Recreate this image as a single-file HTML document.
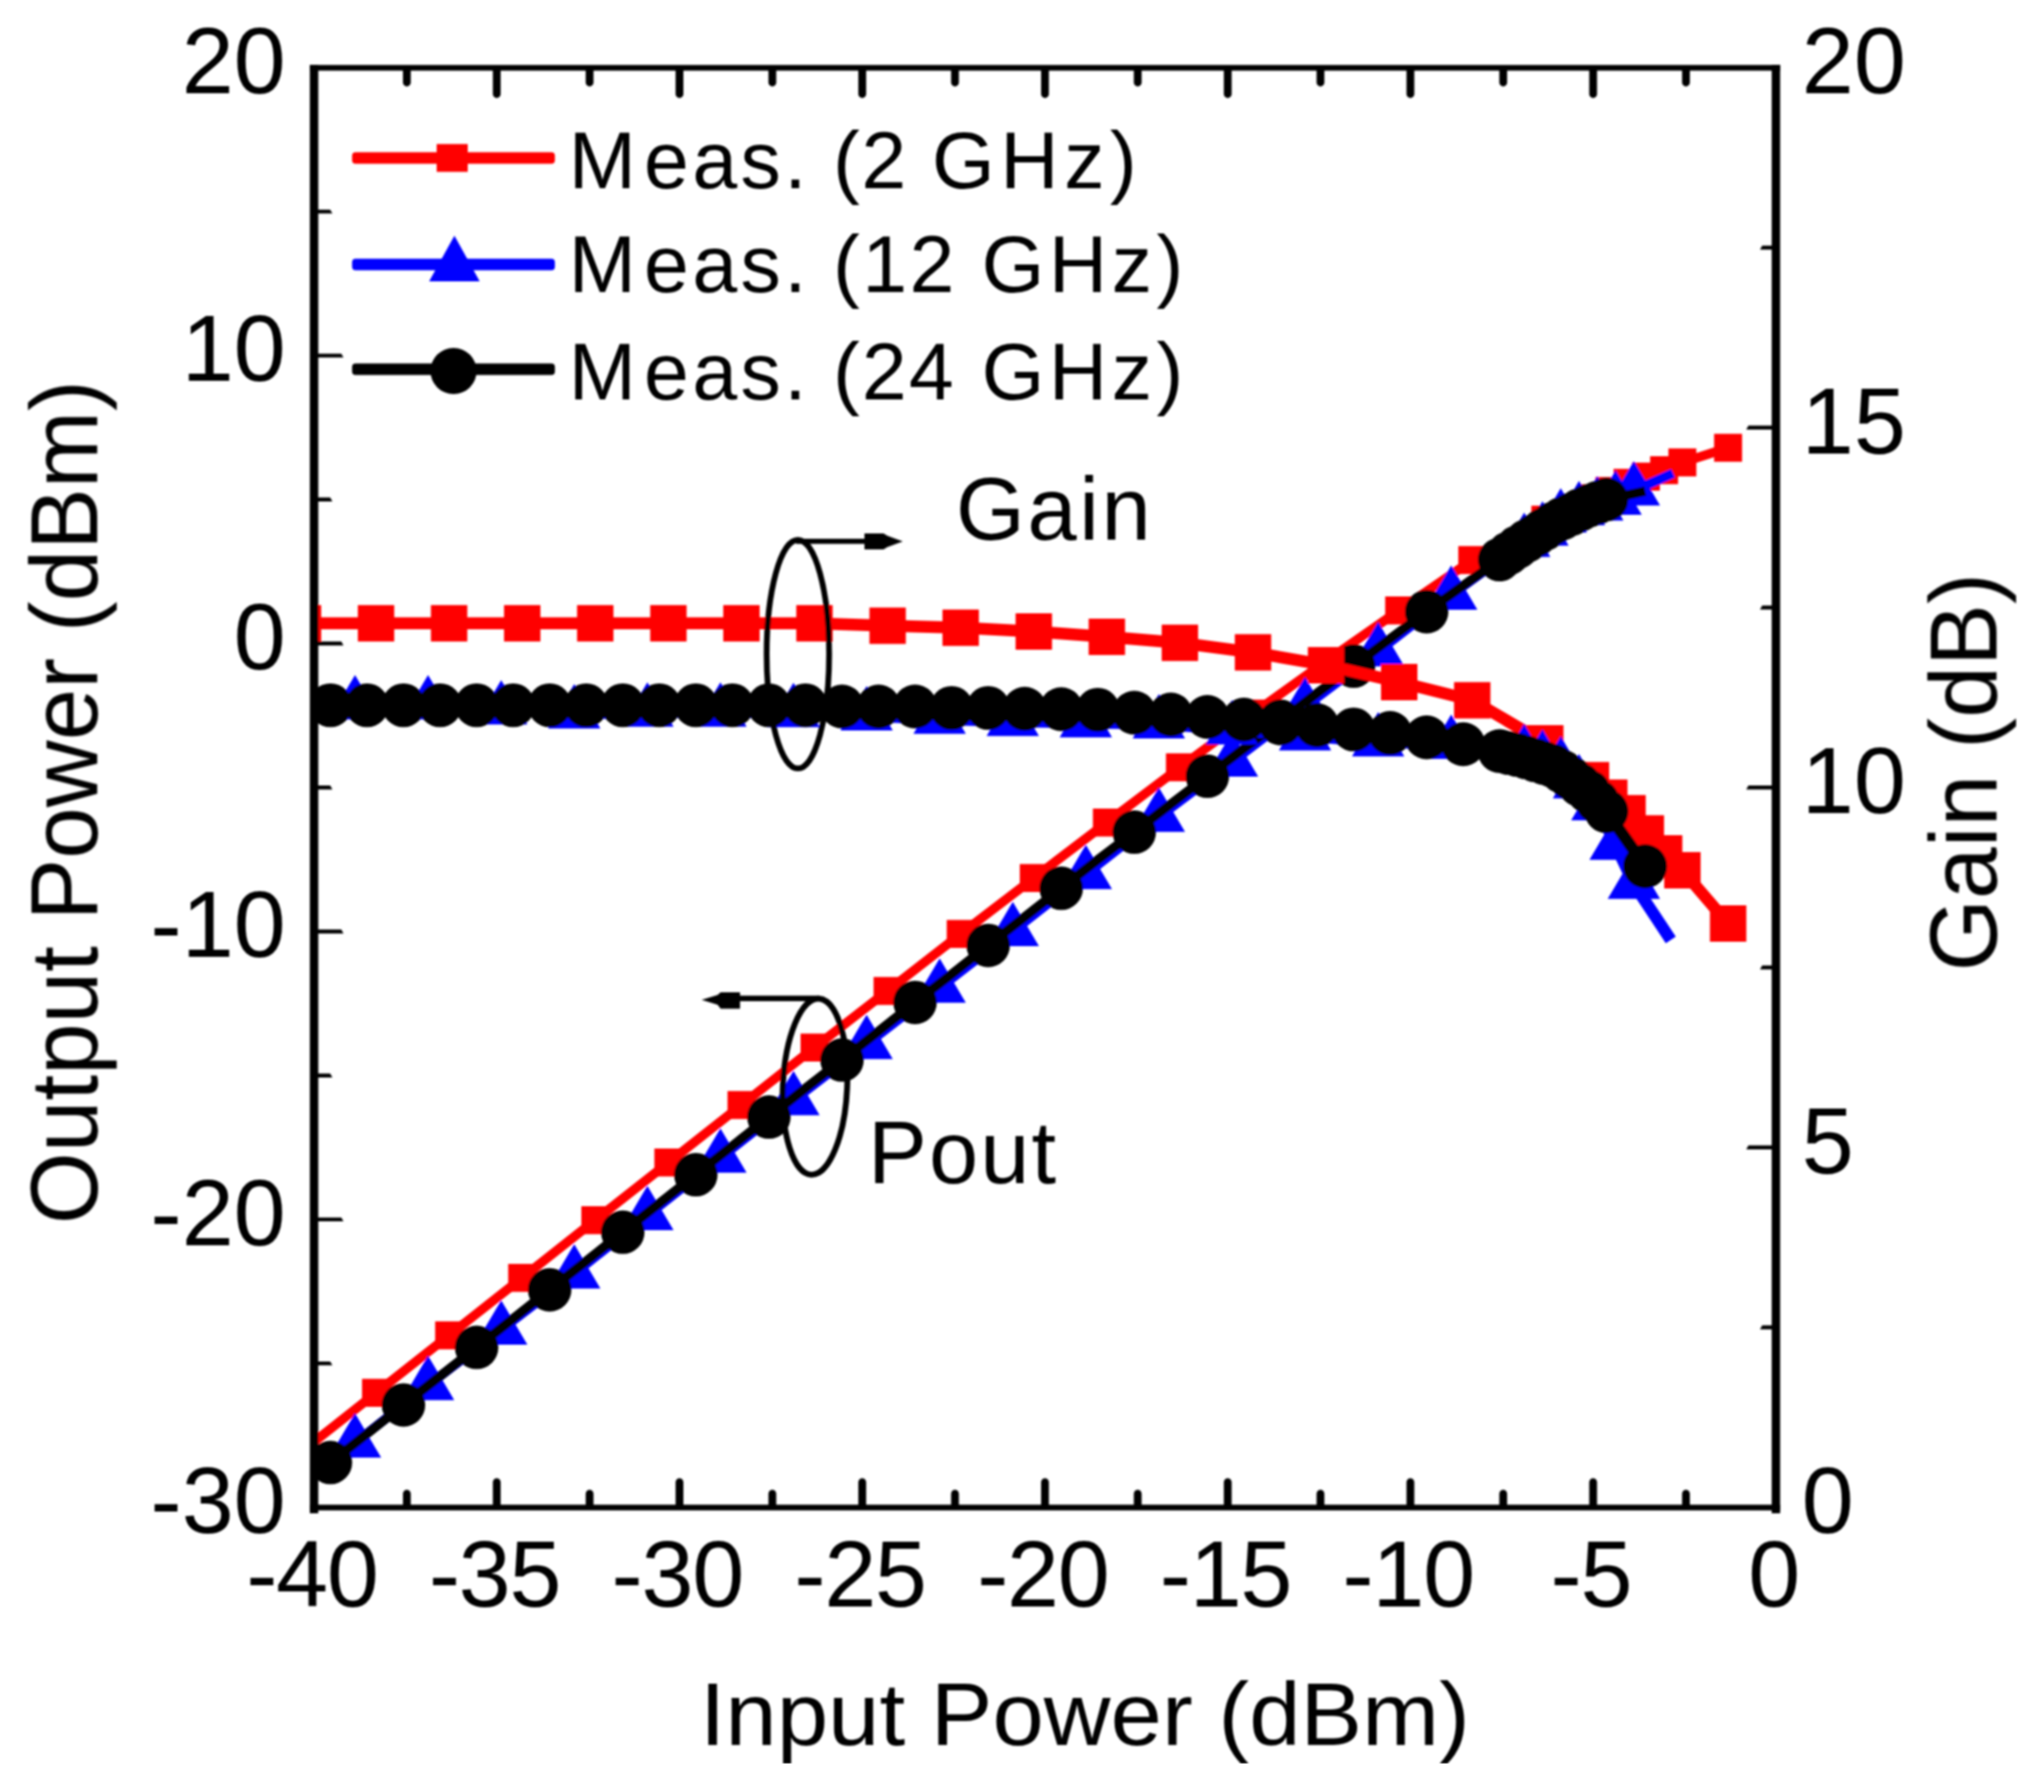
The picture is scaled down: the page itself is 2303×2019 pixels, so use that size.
<!DOCTYPE html>
<html lang="en"><head><meta charset="utf-8"><title>Output Power and Gain vs Input Power</title>
<style>html,body{margin:0;padding:0;background:#fff}svg{display:block}text{font-family:"Liberation Sans",Arial,Helvetica,sans-serif;fill:#000}</style></head><body>
<svg width="2303" height="2019" viewBox="0 0 2303 2019">
<rect width="2303" height="2019" fill="#fff"/>
<defs><filter id="soft" x="0" y="0" width="100%" height="100%" filterUnits="objectBoundingBox"><feGaussianBlur stdDeviation="0.9"/></filter><clipPath id="plot"><rect x="353.9" y="76.4" width="1647.1" height="1622.1"/></clipPath></defs>
<g id="chart" filter="url(#soft)">
<g clip-path="url(#plot)">
<g id="pout">
<polyline points="341.4,1634.2 423.7,1569.4 506,1504.5 588.4,1439.6 670.7,1374.7 753.1,1309.9 835.4,1245 917.7,1180.1 1000.1,1116.4 1082.4,1052.4 1164.8,989.3 1247.1,926.7 1329.4,864.6 1411.8,804 1494.1,744.9 1576.5,687.6 1658.8,631 1741.1,585.5 1792.6,561.6 1813.2,553.2 1833.8,544 1854.4,536.9 1875,529.6 1895.6,521 1947.1,504.5" fill="none" stroke="#ff0000" stroke-width="10.5" stroke-linejoin="round"/>
<path d="M325.6 1618.5h31.5v31.5h-31.5zM407.9 1553.6h31.5v31.5h-31.5zM490.3 1488.7h31.5v31.5h-31.5zM572.6 1423.9h31.5v31.5h-31.5zM655 1359h31.5v31.5h-31.5zM737.3 1294.1h31.5v31.5h-31.5zM819.7 1229.2h31.5v31.5h-31.5zM902 1164.4h31.5v31.5h-31.5zM984.3 1100.7h31.5v31.5h-31.5zM1066.7 1036.6h31.5v31.5h-31.5zM1149 973.5h31.5v31.5h-31.5zM1231.4 911h31.5v31.5h-31.5zM1313.7 848.8h31.5v31.5h-31.5zM1396 788.3h31.5v31.5h-31.5zM1478.4 729.1h31.5v31.5h-31.5zM1560.7 671.9h31.5v31.5h-31.5zM1643.1 615.2h31.5v31.5h-31.5zM1725.4 569.7h31.5v31.5h-31.5zM1776.8 545.8h31.5v31.5h-31.5zM1797.5 537.5h31.5v31.5h-31.5zM1818 528.2h31.5v31.5h-31.5zM1838.7 521.2h31.5v31.5h-31.5zM1859.2 513.9h31.5v31.5h-31.5zM1879.8 505.3h31.5v31.5h-31.5zM1931.3 488.7h31.5v31.5h-31.5z" fill="#ff0000"/>
<polyline points="317.7,1690.5 400,1625.6 482.3,1560.8 564.7,1498.2 647,1435.1 729.4,1369.5 811.7,1304.6 894,1239.9 976.4,1176.6 1058.7,1113.2 1141.1,1049.3 1223.4,985 1305.7,920.7 1388.1,858.5 1470.4,796.3 1552.8,734.1 1635.1,670.4 1717.3,610.8 1737.9,598.1 1758.5,583.4 1779.1,575 1799.7,569.7 1820.3,563.4 1840.9,552.9 1885,533.3" fill="none" stroke="#0000ff" stroke-width="10.5" stroke-linejoin="round"/>
<path d="M317.7 1657.2L347.2 1707.2L288.2 1707.2zM400 1592.3L429.5 1642.3L370.5 1642.3zM482.3 1527.4L511.8 1577.4L452.8 1577.4zM564.7 1464.9L594.2 1514.9L535.2 1514.9zM647 1401.8L676.5 1451.8L617.5 1451.8zM729.4 1336.1L758.9 1386.1L699.9 1386.1zM811.7 1271.3L841.2 1321.3L782.2 1321.3zM894 1206.6L923.5 1256.6L864.5 1256.6zM976.4 1143.2L1005.9 1193.2L946.9 1193.2zM1058.7 1079.8L1088.2 1129.8L1029.2 1129.8zM1141.1 1016L1170.6 1066L1111.6 1066zM1223.4 951.7L1252.9 1001.7L1193.9 1001.7zM1305.7 887.3L1335.2 937.3L1276.2 937.3zM1388.1 825.1L1417.6 875.1L1358.6 875.1zM1470.4 762.9L1499.9 812.9L1440.9 812.9zM1552.8 700.8L1582.3 750.8L1523.3 750.8zM1635.1 637L1664.6 687L1605.6 687zM1717.3 577.5L1746.8 627.5L1687.8 627.5zM1737.9 564.8L1767.4 614.8L1708.4 614.8zM1758.5 550.1L1788 600.1L1729 600.1zM1779.1 541.7L1808.6 591.7L1749.6 591.7zM1799.7 536.4L1829.2 586.4L1770.2 586.4zM1820.3 530.1L1849.8 580.1L1790.8 580.1zM1840.9 519.6L1870.4 569.6L1811.4 569.6z" fill="#0000ff"/>
<polyline points="372.3,1647.8 413.5,1615.4 454.6,1582.9 495.8,1550.5 537,1518.1 578.2,1485.6 619.3,1453.2 660.5,1420.8 701.7,1388.3 742.8,1355.9 784,1323.5 825.2,1291 866.3,1258.6 907.5,1226.1 948.7,1194.3 989.9,1161.8 1031,1129.4 1072.2,1097.6 1113.4,1065.2 1154.5,1033.1 1195.7,1000.8 1236.9,968.6 1278,937.6 1319.2,905.9 1360.4,874.6 1401.5,843.4 1442.7,812.6 1483.9,781 1525.1,750.5 1566.2,719.6 1607.4,689.2 1648.6,659.8 1689.7,630.5 1699.7,623.5 1709.8,616.5 1719.8,609.7 1729.8,603.1 1739.8,596.4 1749.8,589.8 1759.9,584.4 1769.9,579.6 1779.9,574.7 1790,569.8 1800,566.3 1810,562.8 1853.6,553.3" fill="none" stroke="#000000" stroke-width="10.5" stroke-linejoin="round"/>
<path d="M347.8 1647.8a24.5 24.5 0 1 0 49 0a24.5 24.5 0 1 0 -49 0zM430.1 1582.9a24.5 24.5 0 1 0 49 0a24.5 24.5 0 1 0 -49 0zM512.5 1518.1a24.5 24.5 0 1 0 49 0a24.5 24.5 0 1 0 -49 0zM594.8 1453.2a24.5 24.5 0 1 0 49 0a24.5 24.5 0 1 0 -49 0zM677.2 1388.3a24.5 24.5 0 1 0 49 0a24.5 24.5 0 1 0 -49 0zM759.5 1323.5a24.5 24.5 0 1 0 49 0a24.5 24.5 0 1 0 -49 0zM841.8 1258.6a24.5 24.5 0 1 0 49 0a24.5 24.5 0 1 0 -49 0zM924.2 1194.3a24.5 24.5 0 1 0 49 0a24.5 24.5 0 1 0 -49 0zM1006.5 1129.4a24.5 24.5 0 1 0 49 0a24.5 24.5 0 1 0 -49 0zM1088.9 1065.2a24.5 24.5 0 1 0 49 0a24.5 24.5 0 1 0 -49 0zM1171.2 1000.8a24.5 24.5 0 1 0 49 0a24.5 24.5 0 1 0 -49 0zM1253.5 937.6a24.5 24.5 0 1 0 49 0a24.5 24.5 0 1 0 -49 0zM1335.9 874.6a24.5 24.5 0 1 0 49 0a24.5 24.5 0 1 0 -49 0zM1418.2 812.6a24.5 24.5 0 1 0 49 0a24.5 24.5 0 1 0 -49 0zM1500.6 750.5a24.5 24.5 0 1 0 49 0a24.5 24.5 0 1 0 -49 0zM1582.9 689.2a24.5 24.5 0 1 0 49 0a24.5 24.5 0 1 0 -49 0zM1665.2 630.5a24.5 24.5 0 1 0 49 0a24.5 24.5 0 1 0 -49 0zM1675.2 623.5a24.5 24.5 0 1 0 49 0a24.5 24.5 0 1 0 -49 0zM1685.2 616.5a24.5 24.5 0 1 0 49 0a24.5 24.5 0 1 0 -49 0zM1695.3 609.7a24.5 24.5 0 1 0 49 0a24.5 24.5 0 1 0 -49 0zM1705.3 603.1a24.5 24.5 0 1 0 49 0a24.5 24.5 0 1 0 -49 0zM1715.3 596.4a24.5 24.5 0 1 0 49 0a24.5 24.5 0 1 0 -49 0zM1725.3 589.8a24.5 24.5 0 1 0 49 0a24.5 24.5 0 1 0 -49 0zM1735.4 584.4a24.5 24.5 0 1 0 49 0a24.5 24.5 0 1 0 -49 0zM1745.4 579.6a24.5 24.5 0 1 0 49 0a24.5 24.5 0 1 0 -49 0zM1755.4 574.7a24.5 24.5 0 1 0 49 0a24.5 24.5 0 1 0 -49 0zM1765.5 569.8a24.5 24.5 0 1 0 49 0a24.5 24.5 0 1 0 -49 0zM1775.5 566.3a24.5 24.5 0 1 0 49 0a24.5 24.5 0 1 0 -49 0zM1785.5 562.8a24.5 24.5 0 1 0 49 0a24.5 24.5 0 1 0 -49 0z" fill="#000000"/>
</g>
<g id="gain">
<polyline points="341.4,702.2 423.7,702.2 506,702.2 588.4,702.2 670.7,702.2 753.1,702.2 835.4,702.2 917.7,702.2 1000.1,705.1 1082.4,707.2 1164.8,711.6 1247.1,717.4 1329.4,724.2 1411.8,735.1 1494.1,749.4 1576.5,768.5 1658.8,789 1741.1,837.4 1792.6,879 1813.2,898.8 1833.8,916.2 1854.4,939.1 1875,961.5 1895.6,980.6 1947.1,1040.6" fill="none" stroke="#ff0000" stroke-width="13.5" stroke-linejoin="round"/>
<path d="M320.9 681.7h41v41h-41zM403.2 681.7h41v41h-41zM485.5 681.7h41v41h-41zM567.9 681.7h41v41h-41zM650.2 681.7h41v41h-41zM732.6 681.7h41v41h-41zM814.9 681.7h41v41h-41zM897.2 681.7h41v41h-41zM979.6 684.6h41v41h-41zM1061.9 686.7h41v41h-41zM1144.3 691.1h41v41h-41zM1226.6 696.9h41v41h-41zM1308.9 703.7h41v41h-41zM1391.3 714.6h41v41h-41zM1473.6 728.9h41v41h-41zM1556 748h41v41h-41zM1638.3 768.5h41v41h-41zM1720.6 816.9h41v41h-41zM1772.1 858.5h41v41h-41zM1792.7 878.3h41v41h-41zM1813.3 895.7h41v41h-41zM1833.9 918.6h41v41h-41zM1854.5 941h41v41h-41zM1875.1 960.1h41v41h-41zM1926.6 1020.1h41v41h-41z" fill="#ff0000"/>
<polyline points="317.7,793.7 400,793.7 482.3,793.7 564.7,799.5 647,804 729.4,802 811.7,802 894,802.5 976.4,806.3 1058.7,810 1141.1,812.5 1223.4,814 1305.7,815.3 1388.1,822 1470.4,828.7 1552.8,835.5 1635.1,838.3 1717.3,849 1737.9,855 1758.5,862.7 1779.1,882.7 1799.7,907.6 1820.3,952 1840.9,996 1882.5,1059" fill="none" stroke="#0000ff" stroke-width="13.5" stroke-linejoin="round"/>
<path d="M317.7 760.4L347.2 810.4L288.2 810.4zM400 760.4L429.5 810.4L370.5 810.4zM482.3 760.4L511.8 810.4L452.8 810.4zM564.7 766.2L594.2 816.2L535.2 816.2zM647 770.7L676.5 820.7L617.5 820.7zM729.4 768.7L758.9 818.7L699.9 818.7zM811.7 768.7L841.2 818.7L782.2 818.7zM894 769.2L923.5 819.2L864.5 819.2zM976.4 773L1005.9 823L946.9 823zM1058.7 776.7L1088.2 826.7L1029.2 826.7zM1141.1 779.2L1170.6 829.2L1111.6 829.2zM1223.4 780.7L1252.9 830.7L1193.9 830.7zM1305.7 782L1335.2 832L1276.2 832zM1388.1 788.7L1417.6 838.7L1358.6 838.7zM1470.4 795.4L1499.9 845.4L1440.9 845.4zM1552.8 802.2L1582.3 852.2L1523.3 852.2zM1635.1 805L1664.6 855L1605.6 855zM1717.3 815.7L1746.8 865.7L1687.8 865.7zM1737.9 821.7L1767.4 871.7L1708.4 871.7zM1758.5 829.4L1788 879.4L1729 879.4zM1779.1 849.4L1808.6 899.4L1749.6 899.4zM1799.7 874.3L1829.2 924.3L1770.2 924.3zM1820.3 918.7L1849.8 968.7L1790.8 968.7zM1840.9 962.7L1870.4 1012.7L1811.4 1012.7z" fill="#0000ff"/>
<polyline points="372.3,794.6 413.5,794.6 454.6,794.6 495.8,794.6 537,794.6 578.2,794.6 619.3,794.6 660.5,794.6 701.7,794.6 742.8,794.6 784,794.6 825.2,794.6 866.3,794.6 907.5,794.6 948.7,796 989.9,796 1031,796 1072.2,797.6 1113.4,797.6 1154.5,798.5 1195.7,799 1236.9,799.6 1278,803 1319.2,805 1360.4,807.8 1401.5,810.8 1442.7,815 1483.9,817 1525.1,821.9 1566.2,825.8 1607.4,830.7 1648.6,838.5 1689.7,846.3 1699.7,848.4 1709.8,850.6 1719.8,853.4 1729.8,856.6 1739.8,859.8 1749.8,863 1759.9,869.2 1769.9,876.8 1779.9,884.4 1790,892 1800,903 1810,914 1853.6,976" fill="none" stroke="#000000" stroke-width="13.5" stroke-linejoin="round"/>
<path d="M347.6 794.6a24.7 24.7 0 1 0 49.4 0a24.7 24.7 0 1 0 -49.4 0zM388.8 794.6a24.7 24.7 0 1 0 49.4 0a24.7 24.7 0 1 0 -49.4 0zM429.9 794.6a24.7 24.7 0 1 0 49.4 0a24.7 24.7 0 1 0 -49.4 0zM471.1 794.6a24.7 24.7 0 1 0 49.4 0a24.7 24.7 0 1 0 -49.4 0zM512.3 794.6a24.7 24.7 0 1 0 49.4 0a24.7 24.7 0 1 0 -49.4 0zM553.5 794.6a24.7 24.7 0 1 0 49.4 0a24.7 24.7 0 1 0 -49.4 0zM594.6 794.6a24.7 24.7 0 1 0 49.4 0a24.7 24.7 0 1 0 -49.4 0zM635.8 794.6a24.7 24.7 0 1 0 49.4 0a24.7 24.7 0 1 0 -49.4 0zM677 794.6a24.7 24.7 0 1 0 49.4 0a24.7 24.7 0 1 0 -49.4 0zM718.1 794.6a24.7 24.7 0 1 0 49.4 0a24.7 24.7 0 1 0 -49.4 0zM759.3 794.6a24.7 24.7 0 1 0 49.4 0a24.7 24.7 0 1 0 -49.4 0zM800.5 794.6a24.7 24.7 0 1 0 49.4 0a24.7 24.7 0 1 0 -49.4 0zM841.6 794.6a24.7 24.7 0 1 0 49.4 0a24.7 24.7 0 1 0 -49.4 0zM882.8 794.6a24.7 24.7 0 1 0 49.4 0a24.7 24.7 0 1 0 -49.4 0zM924 796a24.7 24.7 0 1 0 49.4 0a24.7 24.7 0 1 0 -49.4 0zM965.2 796a24.7 24.7 0 1 0 49.4 0a24.7 24.7 0 1 0 -49.4 0zM1006.3 796a24.7 24.7 0 1 0 49.4 0a24.7 24.7 0 1 0 -49.4 0zM1047.5 797.6a24.7 24.7 0 1 0 49.4 0a24.7 24.7 0 1 0 -49.4 0zM1088.7 797.6a24.7 24.7 0 1 0 49.4 0a24.7 24.7 0 1 0 -49.4 0zM1129.8 798.5a24.7 24.7 0 1 0 49.4 0a24.7 24.7 0 1 0 -49.4 0zM1171 799a24.7 24.7 0 1 0 49.4 0a24.7 24.7 0 1 0 -49.4 0zM1212.2 799.6a24.7 24.7 0 1 0 49.4 0a24.7 24.7 0 1 0 -49.4 0zM1253.3 803a24.7 24.7 0 1 0 49.4 0a24.7 24.7 0 1 0 -49.4 0zM1294.5 805a24.7 24.7 0 1 0 49.4 0a24.7 24.7 0 1 0 -49.4 0zM1335.7 807.8a24.7 24.7 0 1 0 49.4 0a24.7 24.7 0 1 0 -49.4 0zM1376.8 810.8a24.7 24.7 0 1 0 49.4 0a24.7 24.7 0 1 0 -49.4 0zM1418 815a24.7 24.7 0 1 0 49.4 0a24.7 24.7 0 1 0 -49.4 0zM1459.2 817a24.7 24.7 0 1 0 49.4 0a24.7 24.7 0 1 0 -49.4 0zM1500.4 821.9a24.7 24.7 0 1 0 49.4 0a24.7 24.7 0 1 0 -49.4 0zM1541.5 825.8a24.7 24.7 0 1 0 49.4 0a24.7 24.7 0 1 0 -49.4 0zM1582.7 830.7a24.7 24.7 0 1 0 49.4 0a24.7 24.7 0 1 0 -49.4 0zM1623.9 838.5a24.7 24.7 0 1 0 49.4 0a24.7 24.7 0 1 0 -49.4 0zM1665 846.3a24.7 24.7 0 1 0 49.4 0a24.7 24.7 0 1 0 -49.4 0zM1675 848.4a24.7 24.7 0 1 0 49.4 0a24.7 24.7 0 1 0 -49.4 0zM1685 850.6a24.7 24.7 0 1 0 49.4 0a24.7 24.7 0 1 0 -49.4 0zM1695.1 853.4a24.7 24.7 0 1 0 49.4 0a24.7 24.7 0 1 0 -49.4 0zM1705.1 856.6a24.7 24.7 0 1 0 49.4 0a24.7 24.7 0 1 0 -49.4 0zM1715.1 859.8a24.7 24.7 0 1 0 49.4 0a24.7 24.7 0 1 0 -49.4 0zM1725.1 863a24.7 24.7 0 1 0 49.4 0a24.7 24.7 0 1 0 -49.4 0zM1735.2 869.2a24.7 24.7 0 1 0 49.4 0a24.7 24.7 0 1 0 -49.4 0zM1745.2 876.8a24.7 24.7 0 1 0 49.4 0a24.7 24.7 0 1 0 -49.4 0zM1755.2 884.4a24.7 24.7 0 1 0 49.4 0a24.7 24.7 0 1 0 -49.4 0zM1765.2 892a24.7 24.7 0 1 0 49.4 0a24.7 24.7 0 1 0 -49.4 0zM1775.3 903a24.7 24.7 0 1 0 49.4 0a24.7 24.7 0 1 0 -49.4 0zM1785.3 914a24.7 24.7 0 1 0 49.4 0a24.7 24.7 0 1 0 -49.4 0zM1828.9 976a24.7 24.7 0 1 0 49.4 0a24.7 24.7 0 1 0 -49.4 0z" fill="#000000"/>
</g>
</g>
<g id="axes" fill="#000">
<rect x="349.1" y="73.2" width="9.5" height="1631.8"/>
<rect x="1996.2" y="73.2" width="9.5" height="1631.8"/>
<rect x="349.1" y="73.2" width="1656.6" height="6.4"/>
<rect x="349.1" y="1695.3" width="1656.6" height="6.4"/>
<path d="M454 76.4v16.6a4.4 4.4 0 0 0 8.8 0v-16.6zM454 1698.5v-15.6a4.4 4.4 0 0 1 8.8 0v15.6zM555.3 76.4v29.6a4.4 4.4 0 0 0 8.8 0v-29.6zM555.3 1698.5v-28.6a4.4 4.4 0 0 1 8.8 0v28.6zM659.9 76.4v16.6a4.4 4.4 0 0 0 8.8 0v-16.6zM659.9 1698.5v-15.6a4.4 4.4 0 0 1 8.8 0v15.6zM761.2 76.4v29.6a4.4 4.4 0 0 0 8.8 0v-29.6zM761.2 1698.5v-28.6a4.4 4.4 0 0 1 8.8 0v28.6zM865.8 76.4v16.6a4.4 4.4 0 0 0 8.8 0v-16.6zM865.8 1698.5v-15.6a4.4 4.4 0 0 1 8.8 0v15.6zM967.1 76.4v29.6a4.4 4.4 0 0 0 8.8 0v-29.6zM967.1 1698.5v-28.6a4.4 4.4 0 0 1 8.8 0v28.6zM1071.6 76.4v16.6a4.4 4.4 0 0 0 8.8 0v-16.6zM1071.6 1698.5v-15.6a4.4 4.4 0 0 1 8.8 0v15.6zM1173 76.4v29.6a4.4 4.4 0 0 0 8.8 0v-29.6zM1173 1698.5v-28.6a4.4 4.4 0 0 1 8.8 0v28.6zM1277.5 76.4v16.6a4.4 4.4 0 0 0 8.8 0v-16.6zM1277.5 1698.5v-15.6a4.4 4.4 0 0 1 8.8 0v15.6zM1378.9 76.4v29.6a4.4 4.4 0 0 0 8.8 0v-29.6zM1378.9 1698.5v-28.6a4.4 4.4 0 0 1 8.8 0v28.6zM1483.4 76.4v16.6a4.4 4.4 0 0 0 8.8 0v-16.6zM1483.4 1698.5v-15.6a4.4 4.4 0 0 1 8.8 0v15.6zM1584.7 76.4v29.6a4.4 4.4 0 0 0 8.8 0v-29.6zM1584.7 1698.5v-28.6a4.4 4.4 0 0 1 8.8 0v28.6zM1689.3 76.4v16.6a4.4 4.4 0 0 0 8.8 0v-16.6zM1689.3 1698.5v-15.6a4.4 4.4 0 0 1 8.8 0v15.6zM1790.6 76.4v29.6a4.4 4.4 0 0 0 8.8 0v-29.6zM1790.6 1698.5v-28.6a4.4 4.4 0 0 1 8.8 0v28.6zM1895.2 76.4v16.6a4.4 4.4 0 0 0 8.8 0v-16.6zM1895.2 1698.5v-15.6a4.4 4.4 0 0 1 8.8 0v15.6zM353.9 74H384.5l2.5 4.4H353.9zM353.9 236.2H372l2.5 4.4H353.9zM353.9 398.4H384.5l2.5 4.4H353.9zM353.9 560.6H372l2.5 4.4H353.9zM353.9 722.8H384.5l2.5 4.4H353.9zM353.9 885H372l2.5 4.4H353.9zM353.9 1047.3H384.5l2.5 4.4H353.9zM353.9 1209.5H372l2.5 4.4H353.9zM353.9 1371.7H384.5l2.5 4.4H353.9zM353.9 1533.9H372l2.5 4.4H353.9zM353.9 1696.1H384.5l2.5 4.4H353.9zM2000.9 74H1970l-2.5 4.4H2000.9zM2000.9 276.8H1985.5l-2.5 4.4H2000.9zM2000.9 479.5H1970l-2.5 4.4H2000.9zM2000.9 682.3H1985.5l-2.5 4.4H2000.9zM2000.9 885H1970l-2.5 4.4H2000.9zM2000.9 1087.8H1985.5l-2.5 4.4H2000.9zM2000.9 1290.6H1970l-2.5 4.4H2000.9zM2000.9 1493.3H1985.5l-2.5 4.4H2000.9zM2000.9 1696.1H1970l-2.5 4.4H2000.9z"/>
</g>
<g id="ticklabels" font-size="105.5">
<text x="322" y="105" text-anchor="end">20</text>
<text x="322" y="429.4" text-anchor="end">10</text>
<text x="322" y="753.8" text-anchor="end">0</text>
<text x="322" y="1078.3" text-anchor="end">-10</text>
<text x="322" y="1402.7" text-anchor="end">-20</text>
<text x="322" y="1727.1" text-anchor="end">-30</text>
<text x="2030" y="105">20</text>
<text x="2030" y="510.5">15</text>
<text x="2030" y="916">10</text>
<text x="2030" y="1321.6">5</text>
<text x="2030" y="1727.1">0</text>
<text x="351.4" y="1809.5" text-anchor="middle" letter-spacing="-1.5">-40</text>
<text x="557.2" y="1809.5" text-anchor="middle" letter-spacing="-1.5">-35</text>
<text x="763.1" y="1809.5" text-anchor="middle" letter-spacing="-1.5">-30</text>
<text x="969" y="1809.5" text-anchor="middle" letter-spacing="-1.5">-25</text>
<text x="1174.9" y="1809.5" text-anchor="middle" letter-spacing="-1.5">-20</text>
<text x="1380.8" y="1809.5" text-anchor="middle" letter-spacing="-1.5">-15</text>
<text x="1586.6" y="1809.5" text-anchor="middle" letter-spacing="-1.5">-10</text>
<text x="1792.5" y="1809.5" text-anchor="middle" letter-spacing="-1.5">-5</text>
<text x="1998.4" y="1809.5" text-anchor="middle" letter-spacing="-1.5">0</text>
</g>
<text x="788.4" y="1966" font-size="101" textLength="867.7" lengthAdjust="spacingAndGlyphs">Input Power (dBm)</text>
<text transform="translate(109.5 1379.3) rotate(-90)" font-size="107" textLength="951" lengthAdjust="spacingAndGlyphs">Output Power (dBm)</text>
<text transform="translate(2249.5 1094.5) rotate(-90)" font-size="107" textLength="449" lengthAdjust="spacingAndGlyphs">Gain (dB)</text>
<g id="legend">
<rect x="396.7" y="171.6" width="228.5" height="12.8" rx="4" fill="#ff0000"/>
<rect x="396.7" y="291.6" width="228.5" height="12.8" rx="4" fill="#0000ff"/>
<rect x="396.7" y="409.6" width="228.5" height="12.8" rx="4" fill="#000000"/>
<rect x="492" y="162.3" width="35" height="31.3" fill="#ff0000"/>
<path d="M512 265.5L540.5 317H483.5z" fill="#0000ff"/>
<circle cx="511" cy="418" r="26" fill="#000"/>
<text font-size="91" y="212.3" x="640.8 725.4 779.9 834.3 883.6 908.9 938.4 970.4 1021 1049.9 1126.9 1198.9 1250.6">Meas. (2 GHz)</text>
<text font-size="91" y="329.3" x="640.8 725.4 779.9 834.3 883.6 908.9 938.4 971.4 1024.8 1075.4 1106 1181.8 1252.6 1303.1">Meas. (12 GHz)</text>
<text font-size="91" y="450.2" x="640.8 725.4 779.9 834.3 883.6 908.9 938.4 971.1 1024.1 1074.7 1106 1181.8 1252.6 1303.1">Meas. (24 GHz)</text>
</g>
<g id="annotations">
<ellipse cx="899" cy="737" rx="35.2" ry="128.8" fill="none" stroke="#000" stroke-width="6.5"/>
<path d="M897 607.1H974V601h21.5l4 2.5 17.7 6.4-17.7 6.6-4 2.5H974v-6.3H897z" fill="#000"/>
<text x="1077" y="608" font-size="100" textLength="219.5" lengthAdjust="spacing">Gain</text>
<ellipse cx="918.3" cy="1224.3" rx="36.2" ry="99.3" fill="none" stroke="#000" stroke-width="6.6" transform="rotate(2.5 918.3 1224.3)"/>
<path d="M923 1121.7H833.8V1118H812l-3.5 3-18 5.5 18 5.5 3.5 4.5h21.8v-8.4H923z" fill="#000"/>
<text x="978" y="1333" font-size="99.5" textLength="212" lengthAdjust="spacing">Pout</text>
</g>
</g>
</svg></body></html>
